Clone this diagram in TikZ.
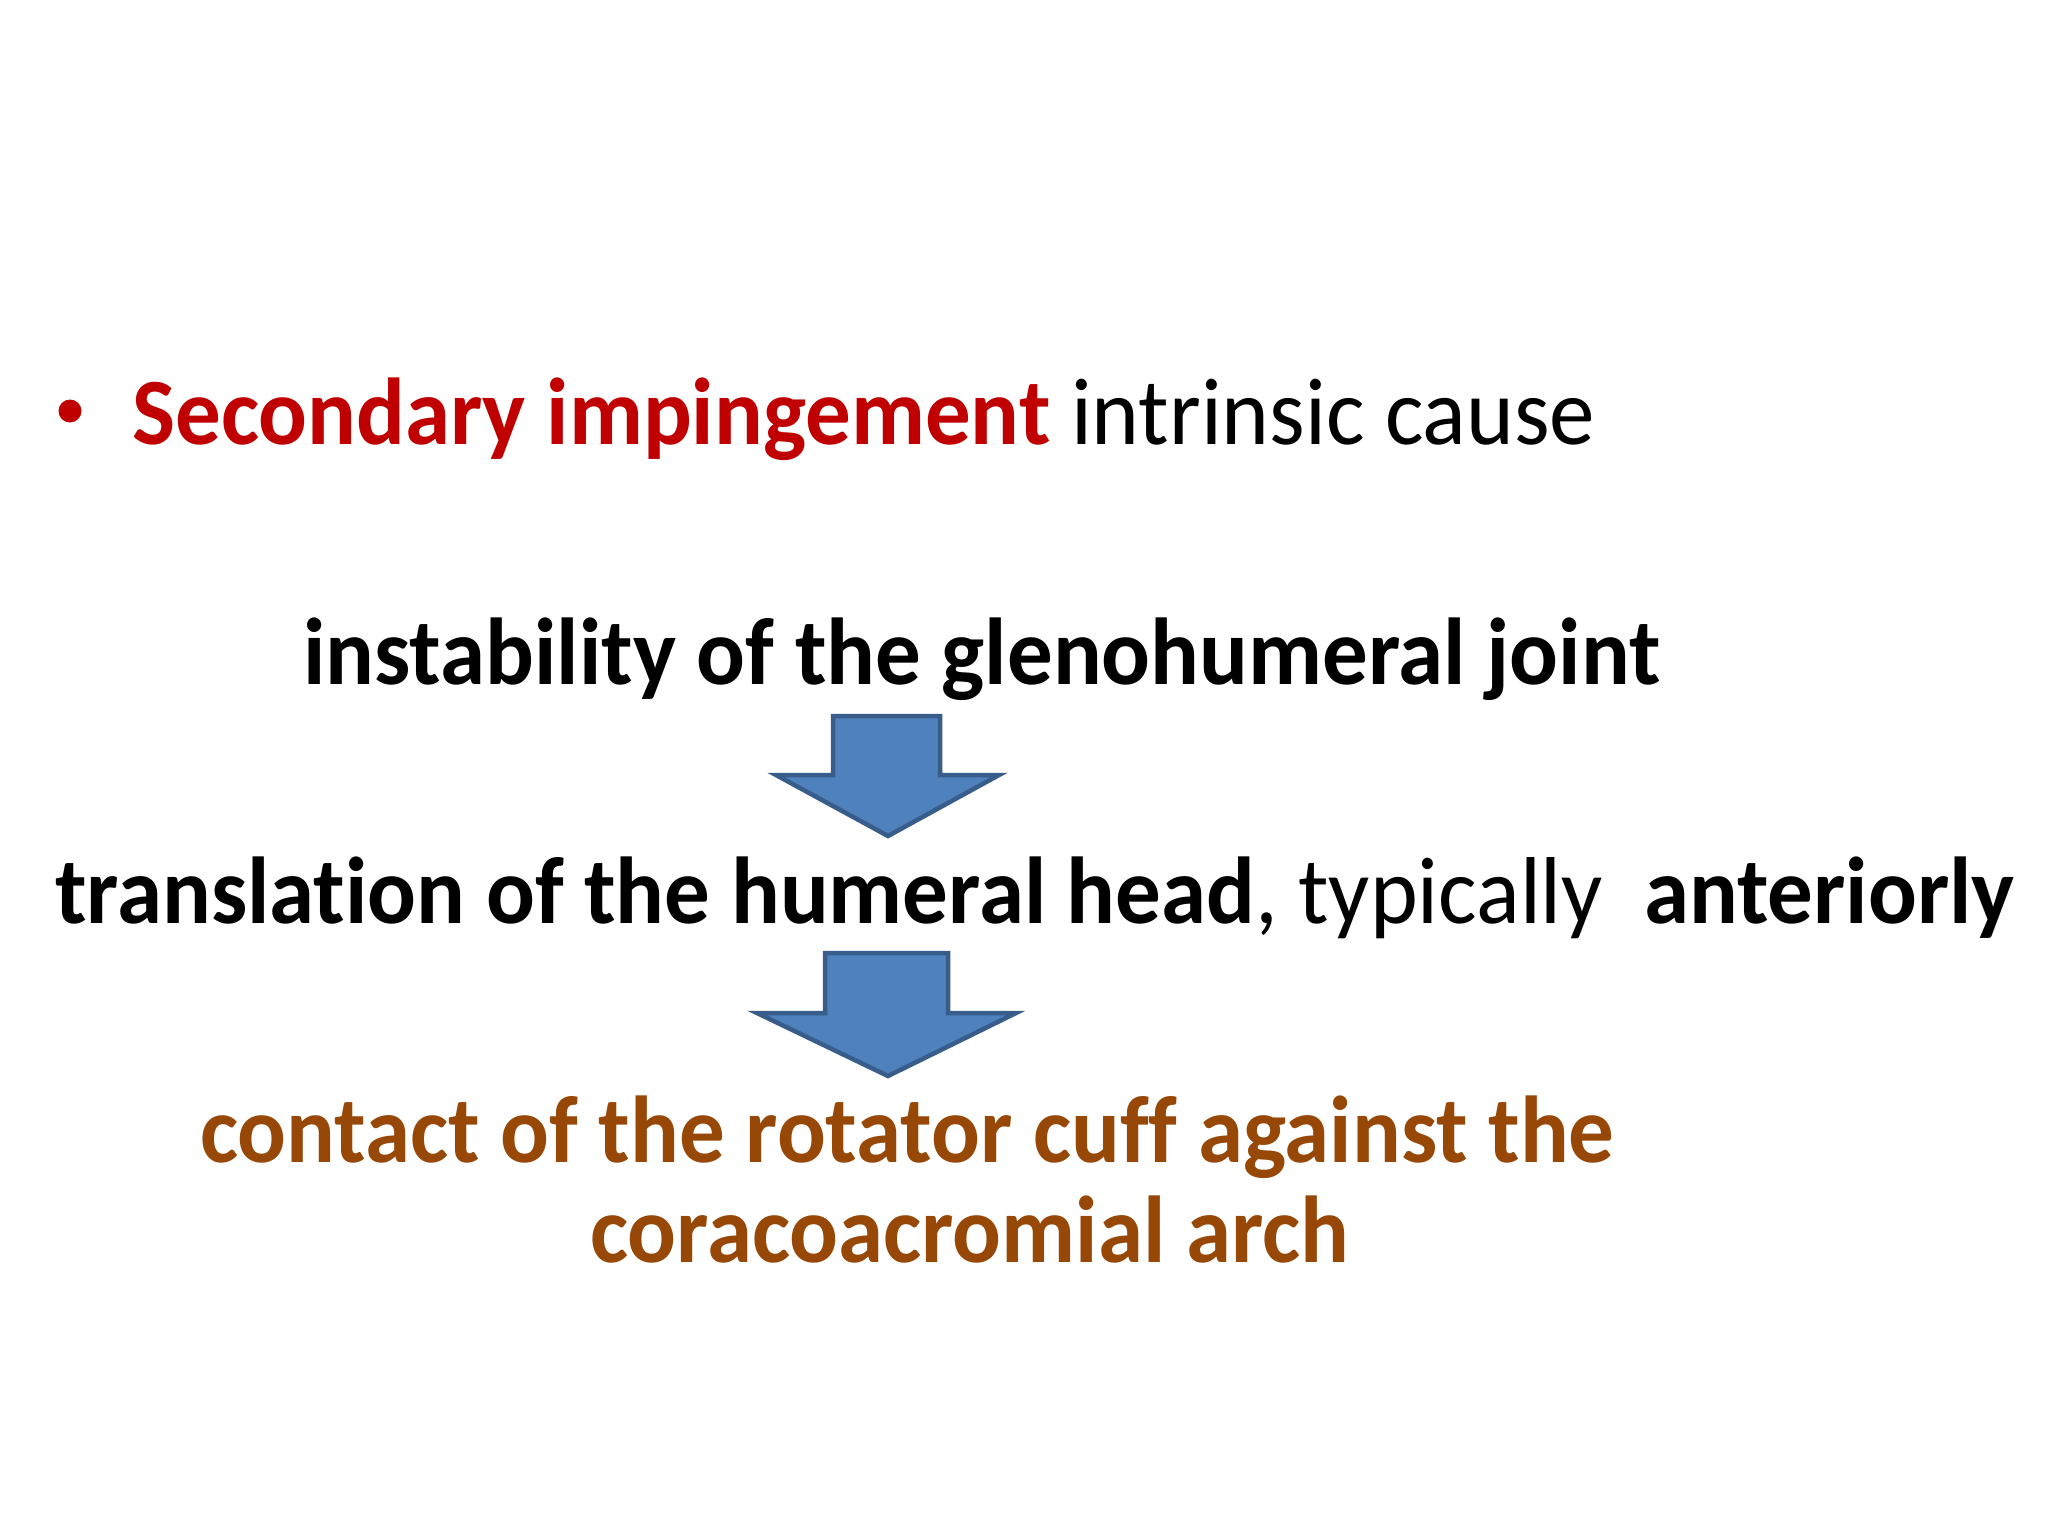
\documentclass[tikz,border=0pt]{standalone}
\usepackage{graphicx}
\usepackage{fontspec}
\setmainfont{Carlito}[Ligatures=NoCommon]
\definecolor{bulletred}{HTML}{C00000}
\definecolor{brownish}{HTML}{984806}
\definecolor{arrowfill}{HTML}{4F81BD}
\definecolor{arrowline}{HTML}{385D8A}
\newcommand{\squeezed}[1]{\scalebox{0.958}[1]{#1}}
\begin{document}
\begin{tikzpicture}[x=1pt,y=-1pt,
  txt/.style={anchor=base west, inner sep=0pt, font=\fontsize{95}{110}\selectfont},
  blockarrow/.style={fill=arrowfill, draw=arrowline, line width=4.5pt, line join=miter}]
\useasboundingbox (0,0) rectangle (2048,1536);
\fill[white] (0,0) rectangle (2048,1536);
\node[circle, fill=bulletred, inner sep=0pt, minimum size=23pt] (bul) at (70,411) {};
\node[txt] (l1) at (132,444) {\squeezed{\textcolor{bulletred}{\bfseries Secondary impingement} intrinsic cause}};
\node[txt] (l2) at (303,684) {\squeezed{\bfseries instability of the glenohumeral joint}};
\node[txt] (l3) at (55,923) {\squeezed{\bfseries translation of the humeral head\mdseries, typically\ \ \bfseries anteriorly}};
\node[txt, text=brownish] (l4) at (200,1162) {\squeezed{\bfseries contact of the rotator cuff against the}};
\node[txt, text=brownish] (l5) at (590,1262) {\squeezed{\bfseries coracoacromial arch}};
\draw[blockarrow] (833,716) -- (940,716) -- (940,775) -- (999,775) -- (888,836) -- (776,775) -- (833,775) -- cycle;
\draw[blockarrow] (825,953) -- (948,953) -- (948,1013) -- (1016,1013) -- (888,1076) -- (757,1013) -- (825,1013) -- cycle;
\end{tikzpicture}
\end{document}
